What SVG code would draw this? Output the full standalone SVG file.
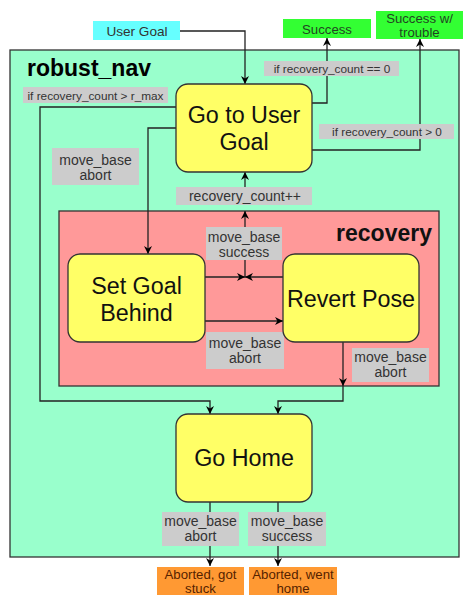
<svg xmlns="http://www.w3.org/2000/svg" width="474" height="606" viewBox="0 0 474 606">
<defs>
<marker id="arr" viewBox="0 0 10 10" refX="10" refY="5" markerWidth="8" markerHeight="8" markerUnits="userSpaceOnUse" orient="auto">
<path d="M0,0 L10,5 L0,10 L3,5 z" fill="#000"/>
</marker>
<style>
text{font-family:"Liberation Sans",Arial,sans-serif;text-anchor:middle}
.node rect{fill:#FFFF66;stroke:#333;stroke-width:1.3}
.node text{font-size:23.3px;fill:#111}
.lbl rect{fill:#CCCCCC}
.lbl text{font-size:14px;fill:#333}
.if text{font-size:11.8px}
.t13{font-size:13.2px}
.con path{fill:none;stroke:#222;stroke-width:1.3}
.arr{marker-end:url(#arr)}
</style>
</defs>
<rect width="474" height="606" fill="#fff"/>
<g id="robust_nav">
<rect x="10" y="50" width="449" height="507" fill="#99FFCC" stroke="#333" stroke-width="1.3"/>
<text x="27" y="76" style="font-size:23px;font-weight:bold;text-anchor:start" fill="#000">robust_nav</text>
</g>
<g id="recovery">
<rect x="59" y="211" width="380" height="175" fill="#FF9999" stroke="#333" stroke-width="1.3"/>
<text x="432" y="241" style="font-size:23px;font-weight:bold;text-anchor:end" fill="#111">recovery</text>
</g>
<g id="user_goal"><rect x="93" y="21" width="87" height="19" fill="#66FFFF"/><text class="t13" x="137" y="35.5" fill="#333" style="font-size:13.6px">User Goal</text></g>
<g id="success"><rect x="283" y="19" width="88" height="19" fill="#33FF33"/><text class="t13" x="327" y="34" fill="#224422">Success</text></g>
<g id="success_trouble"><rect x="376" y="11" width="87" height="28" fill="#33FF33"/><text class="t13" x="419.5" y="22.5" fill="#224422">Success w/</text><text class="t13" x="419.5" y="37" fill="#224422">trouble</text></g>
<g id="aborted_stuck"><rect x="157" y="567" width="87" height="28" fill="#FF9933"/><text class="t13" x="200.5" y="579" fill="#552200">Aborted, got</text><text class="t13" x="200.5" y="593" fill="#552200">stuck</text></g>
<g id="aborted_home"><rect x="249" y="567" width="88" height="28" fill="#FF9933"/><text class="t13" x="293" y="579" fill="#552200">Aborted, went</text><text class="t13" x="293" y="593" fill="#552200">home</text></g>
<g id="connectors" class="con">
<path class="arr" d="M180,31 H245 V84"/>
<path class="arr" d="M312,103 H327 V38"/>
<path class="arr" d="M312,150 H420 V39"/>
<path class="arr" d="M176,107 H40 V401 H210 V414"/>
<path class="arr" d="M176,128 H148 V254"/>
<path class="arr" d="M245,277 V211"/>
<path class="arr" d="M245,205 V172"/>
<path class="arr" d="M205,277 H245"/>
<path class="arr" d="M283,277 H245"/>
<path class="arr" d="M205,321 H283"/>
<path class="arr" d="M343,342 V386"/>
<path class="arr" d="M343,386 V401 H278 V414"/>
<path class="arr" d="M210,502 V566"/>
<path class="arr" d="M278,502 V566"/>
</g>
<g id="labels">
<g class="lbl if"><rect x="264" y="61" width="135" height="15"/><text x="332" y="73">if recovery_count == 0</text></g>
<g class="lbl if"><rect x="319" y="124" width="135" height="15"/><text x="387" y="136">if recovery_count &gt; 0</text></g>
<g class="lbl if"><rect x="23" y="87" width="145" height="16"/><text x="95.5" y="99.5">if recovery_count &gt; r_max</text></g>
<g class="lbl"><rect x="52" y="148" width="87" height="37"/><text x="95.5" y="165">move_base</text><text x="95.5" y="180">abort</text></g>
<g class="lbl"><rect x="176" y="187" width="136" height="18"/><text x="245" y="201">recovery_count++</text></g>
<g class="lbl"><rect x="206" y="227" width="76" height="33"/><text x="244" y="242">move_base</text><text x="244" y="257">success</text></g>
<g class="lbl"><rect x="206" y="332" width="78" height="37"/><text x="245" y="348">move_base</text><text x="245" y="363">abort</text></g>
<g class="lbl"><rect x="352" y="348" width="77" height="34"/><text x="390.5" y="362">move_base</text><text x="390.5" y="377">abort</text></g>
<g class="lbl"><rect x="162" y="512" width="77" height="34"/><text x="200.5" y="526">move_base</text><text x="200.5" y="541">abort</text></g>
<g class="lbl"><rect x="248" y="512" width="78" height="34"/><text x="287" y="526">move_base</text><text x="287" y="541">success</text></g>
</g>
<g id="go_to_user_goal" class="node"><rect x="176" y="84" width="136" height="88" rx="12"/><text x="244" y="123">Go to User</text><text x="244" y="150">Goal</text></g>
<g id="set_goal_behind" class="node"><rect x="68" y="254" width="137" height="88" rx="12"/><text x="136.5" y="294">Set Goal</text><text x="136.5" y="321">Behind</text></g>
<g id="revert_pose" class="node"><rect x="283" y="254" width="136" height="88" rx="12"/><text x="351" y="307">Revert Pose</text></g>
<g id="go_home" class="node"><rect x="176" y="414" width="136" height="88" rx="12"/><text x="244" y="466">Go Home</text></g>
</svg>
